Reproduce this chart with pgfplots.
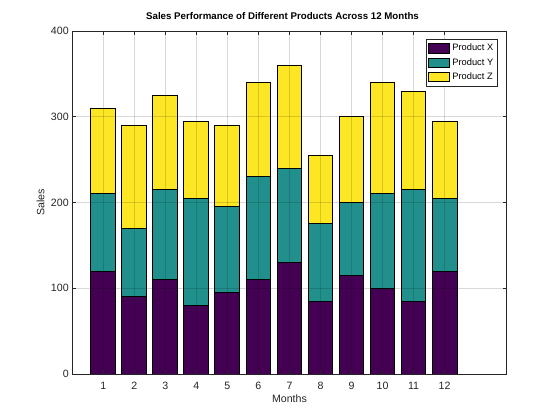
\documentclass[border=0pt]{standalone}
\usepackage{pgfplots}
\pgfplotsset{compat=1.18}
\usepackage{fontspec}
\setmainfont{Liberation Sans}
\definecolor{vx}{HTML}{440154}
\definecolor{vy}{HTML}{21908D}
\definecolor{vz}{HTML}{FDE725}
\definecolor{axc}{HTML}{262626}
\begin{document}
\begin{tikzpicture}
\useasboundingbox (0,0) rectangle (420bp,315bp);
\begin{axis}[
  at={(54.2bp,34.5bp)}, anchor=south west,
  scale only axis, width=325.8bp, height=257.25bp,
  ybar stacked, bar width=0.8,
  xmin=0, xmax=14, ymin=0, ymax=400,
  xtick={1,...,12}, ytick={0,100,200,300,400},
  tick align=inside, tick pos=both,
  major tick length=3bp,
  grid=major,
  major grid style={draw=black, opacity=0.15, line width=0.5bp},
  axis on top,
  axis line style={draw=axc, line width=0.6bp},
  every tick/.style={draw=axc, line width=0.6bp},
  /pgf/number format/assume math mode=true,
  tick label style={font=\fontsize{8}{9.6}\selectfont, text=axc},
  xticklabel style={anchor=center, yshift=-8.8bp},
  yticklabel style={anchor=east, inner sep=0pt, xshift=-2.5bp},
  xlabel={Months}, ylabel={Sales},
  label style={font=\fontsize{8}{9.6}\selectfont, text=axc},
  xlabel style={at={(axis description cs:0.5,-0.0729)}, anchor=center},
  ylabel style={at={(axis description cs:-0.0727,0.5)}, anchor=center},
  title={Sales Performance of Different Products Across 12 Months},
  title style={font=\bfseries\fontsize{7.3}{8.7}\selectfont, at={(axis description cs:0.484,1.0204)}, anchor=center},
  legend style={at={(axis description cs:1,1)}, anchor=north east, xshift=-6.3bp, yshift=-6bp,
    font=\fontsize{7}{8.4}\selectfont, draw=axc, line width=0.6bp, inner sep=1.5bp,
    row sep=0.2bp, cells={anchor=west}},
  legend image code/.code={\draw[#1, draw=black, line width=0.6bp] (0bp,-3.4bp) rectangle (15.75bp,3.4bp);},
  every axis plot/.append style={draw=black, line width=0.75bp},
]
\addplot[fill=vx] coordinates {(1,120) (2,90) (3,110) (4,80) (5,95) (6,110) (7,130) (8,85) (9,115) (10,100) (11,85) (12,120)};
\addplot[fill=vy] coordinates {(1,90) (2,80) (3,105) (4,125) (5,100) (6,120) (7,110) (8,90) (9,85) (10,110) (11,130) (12,85)};
\addplot[fill=vz] coordinates {(1,100) (2,120) (3,110) (4,90) (5,95) (6,110) (7,120) (8,80) (9,100) (10,130) (11,115) (12,90)};
\legend{Product X, Product Y, Product Z}
\end{axis}
\end{tikzpicture}
\end{document}
